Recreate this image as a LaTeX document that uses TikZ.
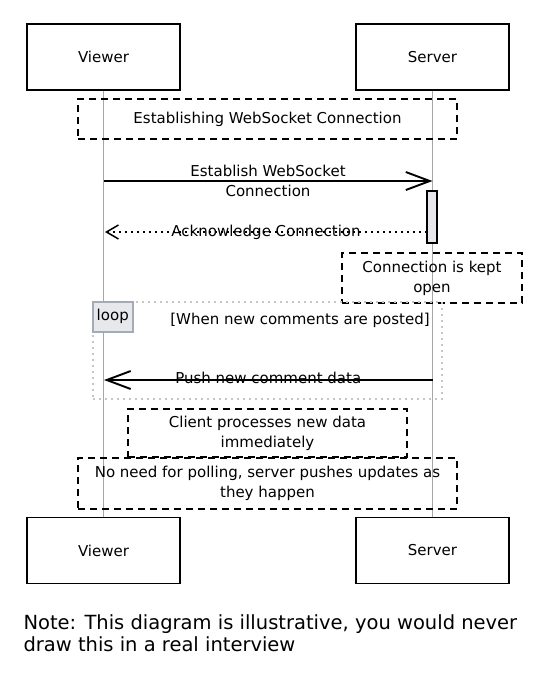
\documentclass[tikz,border=0pt]{standalone}
\usepackage{fontspec}
\setmainfont{DejaVu Sans}
\usepackage{xcolor}
\usetikzlibrary{arrows.meta,positioning}
\definecolor{barfill}{HTML}{E6E8EC}
\definecolor{tagline}{HTML}{A3ABB6}

\begin{document}
\begin{tikzpicture}
      [ x=1pt, y=-1pt,
        every node/.style={font=\fontsize{15}{20}\selectfont},
        actor/.style={draw, line width=1.5pt, minimum width=153pt, minimum height=66pt},
        notebox/.style={draw, line width=1.5pt, dash pattern=on 7pt off 5pt, align=center},
        lifeline/.style={draw=gray!70, line width=0.8pt},
        msg/.style={line width=1.9pt, -{Straight Barb[length=24pt,width=18pt]}},
        reply/.style={line width=1.5pt, dash pattern=on 2pt off 4pt, -{Straight Barb[length=12pt,width=14pt]}},
        loopframe/.style={draw=gray!45, line width=2pt, dash pattern=on 2pt off 4pt},
        looptag/.style={draw=tagline, fill=barfill, line width=1.5pt, minimum width=40pt, minimum height=30pt}
      ]
      \useasboundingbox (0,0) rectangle (557,683);

      % participants
      \node[actor] (vtop) at (103.5,57)    {Viewer};
      \node[actor] (stop) at (432.5,57)    {Server};
      \node[actor] (vbot) at (103.5,550.5) {Viewer};
      \node[actor] (sbot) at (432.5,550.5) {Server};
      \draw[lifeline] (vtop) -- (vbot);
      \draw[lifeline] (stop) -- (sbot);

      \node[notebox, minimum width=379pt, minimum height=40pt] (est) at (267.5,119)
            {Establishing WebSocket Connection};

      % handshake
      \coordinate (v1) at (103.5,181);  \coordinate (s1) at (432.5,181);
      \draw[msg] (v1) -- node[align=center] {Establish WebSocket\\Connection} (s1);

      \node[draw, fill=barfill, line width=1.2pt, minimum width=10pt, minimum height=52pt] (act) at (432,217) {};
      \coordinate (s2) at (427,232);  \coordinate (v2) at (105,232);
      \draw[reply] (s2) -- node {Acknowledge Connection} (v2);

      \node[notebox, minimum width=180pt, minimum height=50pt] (kept) at (432,278)
            {Connection is kept\\open};

      % loop
      \node[loopframe, minimum width=349pt, minimum height=97pt] (loop) at (267.5,350.5) {};
      \node[looptag, anchor=north west] (tag) at (loop.north west) {loop};
      \node (cond) at (300,320) {[When new comments are posted]};
      \coordinate (s3) at (432.5,380);  \coordinate (v3) at (104,380);
      \draw[msg] (s3) -- node[yshift=2pt] {Push new comment data} (v3);

      \node[notebox, minimum width=279pt, minimum height=48pt] (client) at (267.5,433)
            {Client processes new data\\immediately};
      \node[notebox, minimum width=379pt, minimum height=51pt] (poll) at (267.5,483.5)
            {No need for polling, server pushes updates as\\they happen};

      \node[anchor=north west, align=left, font=\fontsize{19.5}{22}\selectfont] (remark) at (20,611)
            {Note: This diagram is illustrative, you would never\\draw this in a real interview};
    \end{tikzpicture}
\end{document}
